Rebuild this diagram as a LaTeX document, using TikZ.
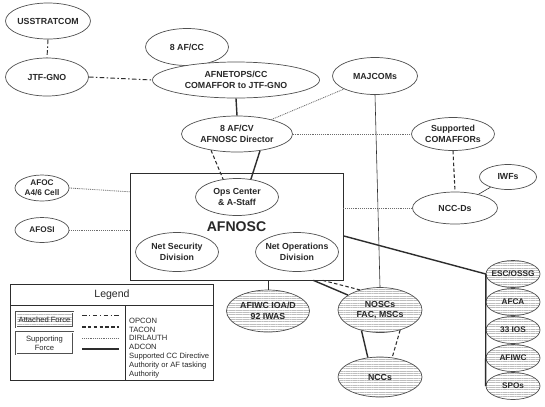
\documentclass[tikz,border=0pt]{standalone}
\usepackage{fontspec}
\setmainfont{Liberation Sans}
\usetikzlibrary{shapes.geometric, patterns.meta}
\definecolor{lineDark}{RGB}{45, 45, 45}
\definecolor{edgeGray}{RGB}{80, 80, 80}
\definecolor{hatchGray}{RGB}{190, 190, 190}
\definecolor{textDark}{RGB}{40, 40, 40}

\begin{document}
\begin{tikzpicture}[
    x=0.03cm, y=-0.03cm,
    org/.style={
        ellipse,
        draw=edgeGray,
        line width=0.6pt,
        fill=white,
        inner sep=-2pt,
        align=center,
        text=textDark,
        font=\fontsize{7.5}{9}\selectfont\bfseries
    },
    attached/.style={
        org,
        preaction={fill=white},
        pattern={Lines[angle=0, distance=2pt, line width=0.3pt]},
        pattern color=hatchGray
    },
    ellsize/.style 2 args={
        minimum width=#1*0.03cm,
        minimum height=#2*0.03cm
    },
    minor/.style={
        font=\fontsize{7}{8.2}\selectfont\bfseries
    },
    opcon/.style={
        draw=lineDark,
        line width=0.8pt,
        dash pattern=on 4pt off 2pt on 1.2pt off 2pt
    },
    tacon/.style={
        draw=lineDark,
        line width=0.9pt,
        dash pattern=on 3pt off 2pt
    },
    dirlauth/.style={
        draw=lineDark!70,
        line width=0.7pt,
        dash pattern=on 0.8pt off 0.8pt
    },
    adcon/.style={
        draw=lineDark,
        line width=1.2pt
    },
    link/.style={
        draw=lineDark,
        line width=0.5pt
    },
    legbox/.style={
        draw=edgeGray,
        line width=0.4pt,
        double=white,
        double distance=0.8pt,
        align=center,
        inner sep=1pt,
        text=textDark,
        font=\fontsize{6.5}{7.5}\selectfont
    },
    legtext/.style={
        font=\fontsize{6.5}{7.65}\selectfont,
        text=textDark,
        align=left,
        inner sep=0pt
    }
]

\fill[white] (0,0) rectangle (545,406);
\useasboundingbox (0,0) rectangle (545,406);

% Command chain
\node[org, ellsize={85}{36}] (strat) at (48,21) {USSTRATCOM};
\node[org, ellsize={83}{38}] (jtf) at (47,77) {JTF-GNO};
\node[org, ellsize={83}{37}] (afcc) at (187,47) {8 AF/CC};
\node[org, ellsize={167}{36}] (netops) at (236,80) {AFNETOPS/CC\\COMAFFOR to JTF-GNO};
\node[org, ellsize={111}{36}] (afcv) at (237,134) {8 AF/CV\\AFNOSC Director};
\node[org, ellsize={85}{37}] (majcom) at (375,76) {MAJCOMs};
\node[org, ellsize={83}{33}] (comaffor) at (453,134) {Supported\\COMAFFORs};
\node[org, ellsize={57}{25}] (iwf) at (508,177) {IWFs};
\node[org, ellsize={85}{32}] (nccd) at (455,208) {NCC-Ds};
\node[org, minor, ellsize={54}{26}] (afoc) at (42,188) {AFOC\\A4/6 Cell};
\node[org, minor, ellsize={54}{25}] (afosi) at (42,230) {AFOSI};

% AFNOSC box
\node[draw=lineDark, line width=0.6pt, minimum width=213*0.03cm, minimum height=107*0.03cm,
      text=textDark, font=\fontsize{12}{14}\selectfont\bfseries] (afnosc) at (236.5,226.5) {AFNOSC};
\node[org, ellsize={83}{37}] (ops) at (237,197) {Ops Center\\\& A-Staff};
\node[org, ellsize={83}{39}] (netsec) at (177,252) {Net Security\\Division};
\node[org, ellsize={83}{39}] (netop) at (297,252) {Net Operations\\Division};

% Attached forces
\node[attached, minor, ellsize={54}{27}] (esc) at (513,274) {ESC/OSSG};
\node[attached, minor, ellsize={54}{27}] (afca) at (513,302) {AFCA};
\node[attached, minor, ellsize={54}{27}] (ios) at (513,330) {33 IOS};
\node[attached, minor, ellsize={54}{27}] (afiwc) at (513,358) {AFIWC};
\node[attached, minor, ellsize={54}{27}] (spo) at (513,386) {SPOs};
\node[attached, ellsize={83}{42}] (ioad) at (268,311) {AFIWC IOA/D\\92 IWAS};
\node[attached, ellsize={84}{45}] (nosc) at (380,310) {NOSCs\\FAC, MSCs};
\node[attached, ellsize={84}{40}] (ncc) at (380,377) {NCCs};

% OPCON
\draw[opcon] (strat.south) -- (jtf.north);
\draw[opcon] (jtf.east) -- (netops.west);

% TACON
\draw[tacon] (afcv.212) -- (ops.128);
\draw[tacon] (comaffor.south) -- (nccd.north);
\draw[tacon] (afnosc.-32) -- (nosc.135);
\draw[tacon] (nosc.-45) -- (ncc.58);

% DIRLAUTH
\draw[dirlauth] (afcv) -- (majcom);
\draw[dirlauth] (afcv.east) -- (comaffor.west);
\draw[dirlauth] (afoc.east) -- (afnosc.162);
\draw[dirlauth] (afosi.east) -- (afosi.east -| afnosc.west);
\draw[dirlauth] (nccd.west -| afnosc.east) -- (nccd.west);

% ADCON
\draw[adcon] (netops.south) -- (afcv.north);
\draw[adcon] (afcv.324) -- (ops.52);
\draw[adcon] (afnosc.-5) -- (esc.west);
\draw[adcon] (esc.west) -- (spo.west);
\draw[adcon] (afnosc.-35) -- (nosc.155);
\draw[adcon] (nosc.228) -- (ncc.122);

% Other links
\draw[link] (majcom.south) -- (nosc.north);
\draw[link] (nccd) -- (iwf);
\draw[link] (ioad.north |- afnosc.south) -- (ioad.north);

% Legend
\draw[draw=lineDark, line width=0.6pt] (10,284) rectangle (213,380);
\draw[draw=lineDark, line width=0.6pt] (10,305) -- (213,305);
\draw[draw=lineDark, line width=0.6pt] (125,305) -- (125,380);
\node[font=\fontsize{9}{11}\selectfont, text=textDark] (legtitle) at (112,295) {Legend};
\node[legbox, preaction={fill=white}, pattern={Lines[angle=0, distance=2pt, line width=0.3pt]},
      pattern color=hatchGray, minimum width=57*0.03cm, minimum height=15*0.03cm] (legatt) at (44.5,319.5) {Attached Force};
\node[legbox, minimum width=57*0.03cm, minimum height=22*0.03cm] (legsup) at (44.5,343) {Supporting\\Force};
\draw[opcon] (82,315) -- (119,315);
\draw[tacon] (82,327) -- (119,327);
\draw[dirlauth] (82,338) -- (119,338);
\draw[adcon] (82,349) -- (119,349);
\node[legtext, anchor=north west] (legkey) at (129,317.5) {OPCON\\TACON\\DIRLAUTH\\ADCON\\Supported CC Directive\\Authority or AF tasking\\Authority};

\end{tikzpicture}
\end{document}
